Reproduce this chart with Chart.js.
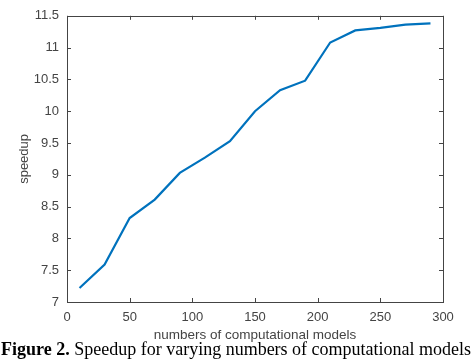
<!DOCTYPE html>
<html>
<head>
<meta charset="utf-8">
<script src="https://cdn.jsdelivr.net/npm/chart.js@4/dist/chart.umd.min.js"></script>
<style>
  html, body { margin: 0; padding: 0; background: #fff; }
  #wrap { position: relative; width: 474px; height: 363px; overflow: hidden; }
  #caption {
    position: absolute; left: 1px; top: 339px; white-space: nowrap;
    font-family: "Liberation Serif", "Times New Roman", serif;
    font-size: 18px; color: #000;
  }
</style>
</head>
<body>
<div id="wrap">
  <canvas id="my-chart" width="474" height="363"></canvas>
  <div id="caption"><b>Figure 2.</b> Speedup for varying numbers of computational models</div>
</div>
<script>
let models = [10, 30, 50, 70, 90, 110, 130, 150, 170, 190, 210, 230, 250, 270, 290];
let speedup = [7.22, 7.59, 8.32, 8.61, 9.03, 9.27, 9.53, 10.0, 10.33, 10.48, 11.08, 11.27, 11.31, 11.36, 11.38];
let xTicks = [0, 50, 100, 150, 200, 250, 300];
let yTicks = [7, 7.5, 8, 8.5, 9, 9.5, 10, 10.5, 11, 11.5];

let axisColor = '#444444';
let labelFont = { family: 'Liberation Sans, Arial, sans-serif', size: 13 };
let titleFont = { family: 'Liberation Sans, Arial, sans-serif', size: 13.5 };

// matlab style box with inward ticks
let boxTicks = {
    id: 'boxTicks',
    afterDraw(chart) {
        let c = chart.ctx;
        let a = chart.chartArea;
        let x = chart.scales.x, y = chart.scales.y;
        c.save();
        c.strokeStyle = axisColor;
        c.lineWidth = 1;
        c.strokeRect(Math.round(a.left) + 0.5, Math.round(a.top) + 0.5,
            Math.round(a.right - a.left), Math.round(a.bottom - a.top));
        c.beginPath();
        xTicks.forEach(v => {
            let px = Math.round(x.getPixelForValue(v)) + 0.5;
            c.moveTo(px, a.bottom); c.lineTo(px, a.bottom - 4);
            c.moveTo(px, a.top); c.lineTo(px, a.top + 4);
        });
        yTicks.forEach(v => {
            let py = Math.round(y.getPixelForValue(v)) + 0.5;
            c.moveTo(a.left, py); c.lineTo(a.left + 4, py);
            c.moveTo(a.right, py); c.lineTo(a.right - 4, py);
        });
        c.stroke();
        c.restore();
    }
};

let ctx = document.querySelector('#my-chart').getContext('2d');
let myChart = new Chart(ctx, {
    type: 'line',
    data: {
        datasets: [{
            data: models.map((m, i) => ({ x: m, y: speedup[i] })),
            borderColor: '#0072BD',
            borderWidth: 2.2,
            pointRadius: 0,
            tension: 0,
            fill: false
        }]
    },
    options: {
        responsive: false,
        animation: false,
        layout: { padding: { left: 0, right: 31, top: 5, bottom: 20 } },
        scales: {
            x: {
                type: 'linear',
                min: 0, max: 300,
                afterBuildTicks: s => { s.ticks = xTicks.map(v => ({ value: v })); },
                afterFit: s => { s.height = 41; },
                grid: { display: false, drawTicks: false },
                border: { display: false },
                ticks: { color: axisColor, font: labelFont, padding: 8, maxRotation: 0 },
                title: { display: true, text: 'numbers of computational models', color: axisColor, font: titleFont, padding: { top: 0, bottom: 0 } }
            },
            y: {
                min: 7, max: 11.5,
                afterBuildTicks: s => { s.ticks = yTicks.map(v => ({ value: v })); },
                afterFit: s => { s.width = 67; },
                grid: { display: false, drawTicks: false },
                border: { display: false },
                ticks: { color: axisColor, font: labelFont, padding: 8, callback: v => String(v) },
                title: { display: true, text: 'speedup', color: axisColor, font: labelFont, padding: { top: 17, bottom: 0 } }
            }
        },
        plugins: {
            legend: { display: false },
            tooltip: { enabled: false }
        }
    },
    plugins: [boxTicks]
});
</script>
</body>
</html>
